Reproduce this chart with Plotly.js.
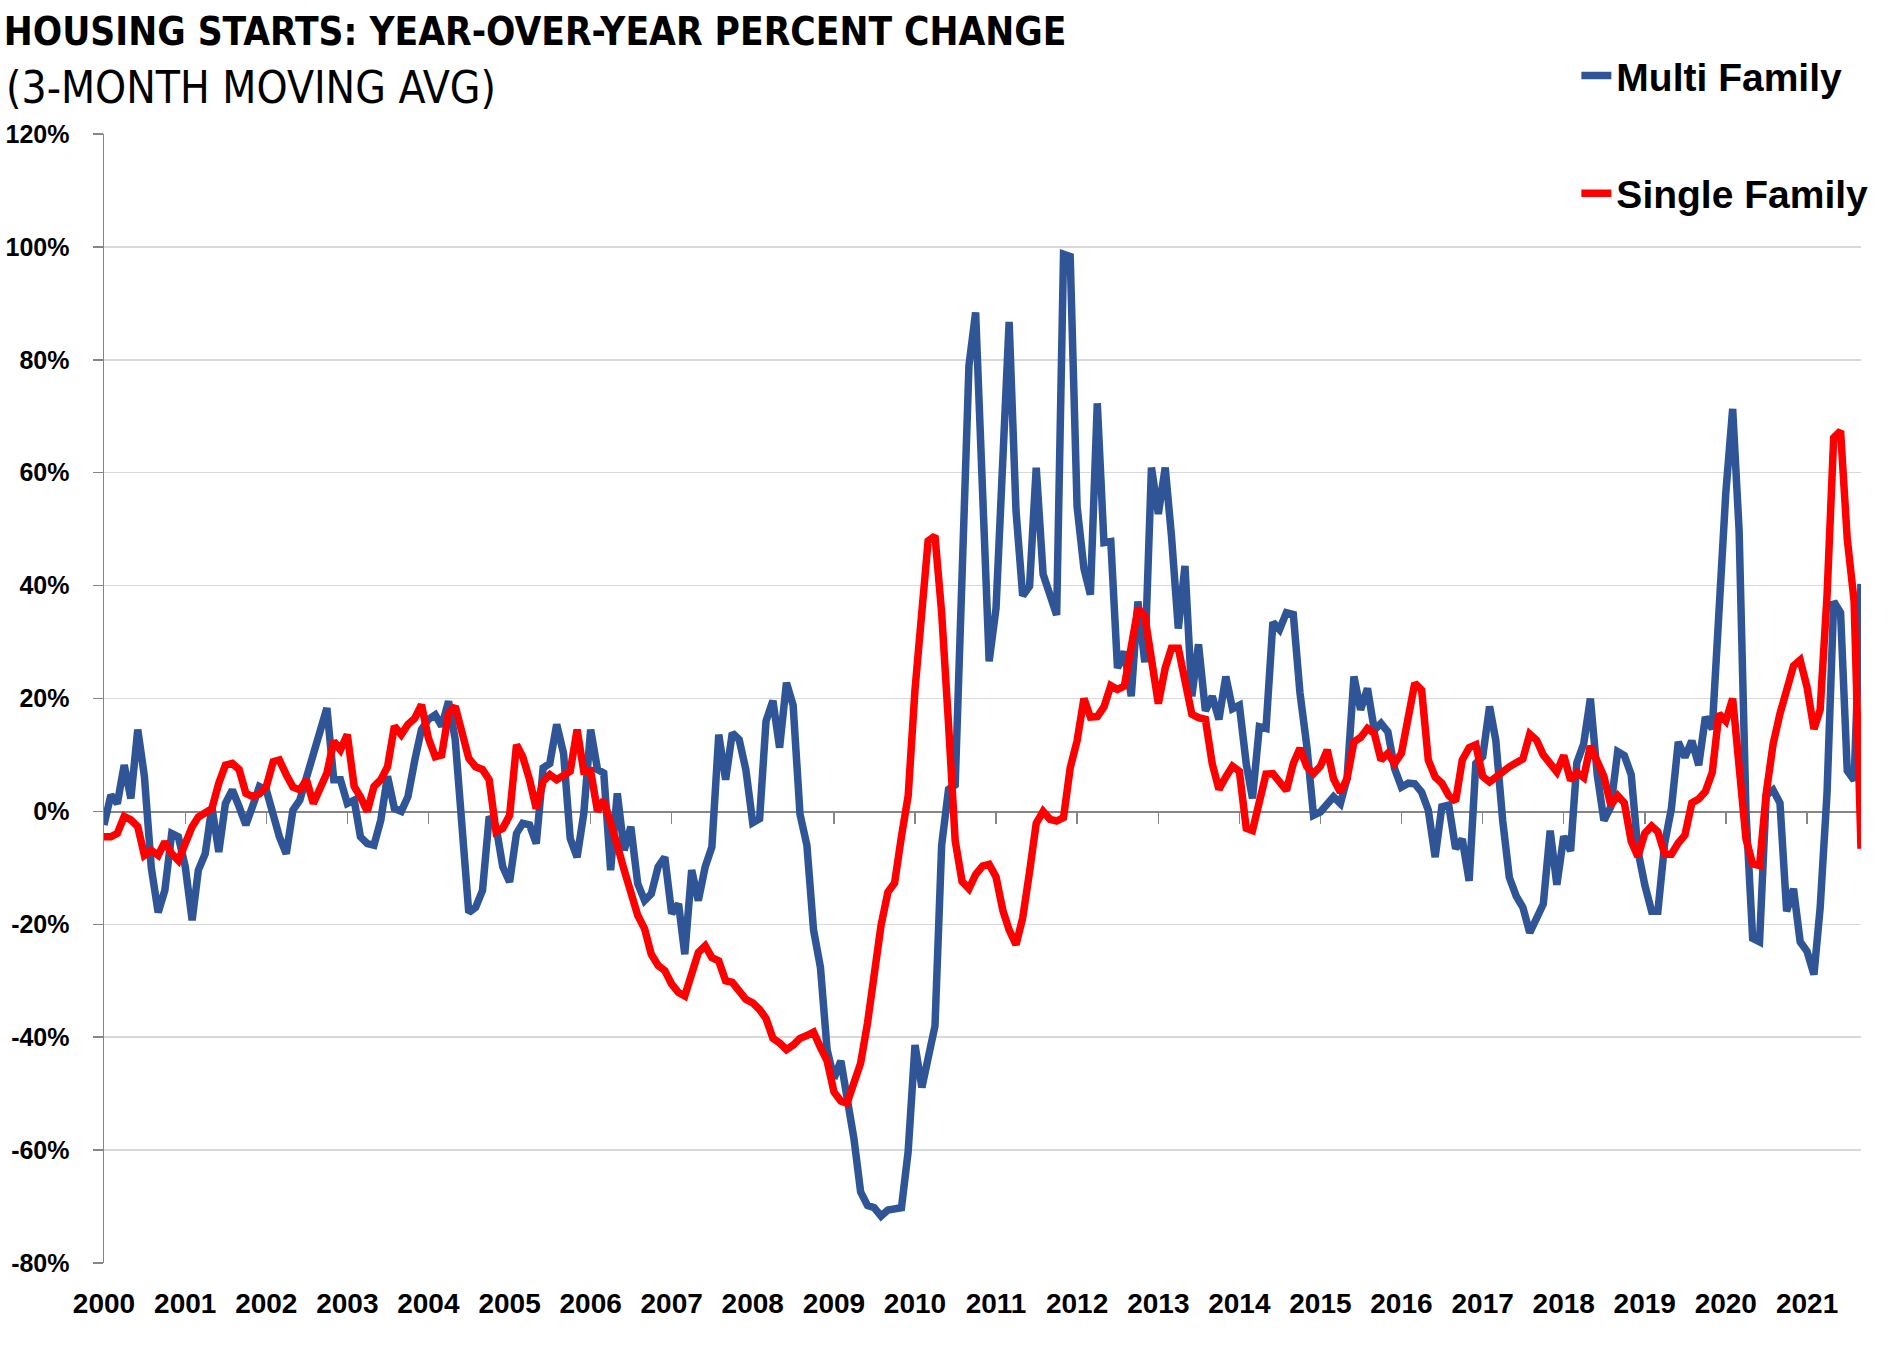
<!DOCTYPE html>
<html>
<head>
<meta charset="utf-8">
<script src="https://cdn.plot.ly/plotly-3.0.1.min.js"></script>
<style>
  html, body { margin: 0; padding: 0; background: #fff; }
  #myDiv { width: 1901px; height: 1362px; }
</style>
</head>
<body>
<div id="myDiv"></div>
<script>
// Monthly values, Jan 2000 - Sep 2021 (one row per year)
var multiFamily = [
  -2.4, 2.9, 1.4, 8.2, 2.3, 14.5, 6.2, -10, -17.9, -14, -3.9, -4.5,
  -9.8, -19.3, -10.4, -7.5, 0.8, -7.2, 1.4, 3.8, 0.8, -2.4, 1, 4.4,
  3.8, -0.4, -4.5, -7.5, 0.2, 2, 6.2, 10.3, 15, 18.3, 5.6, 5.6,
  1.4, 2, -4.5, -5.7, -6, -1.5, 6.2, 0.5, 0, 2.6, 9.1, 14.5,
  16.3, 17.1, 15.1, 19.5, 12.7, -1.5, -17.9, -17, -14, -0.9, -2.7, -9.8,
  -12.5, -3.9, -2.1, -2.4, -5.7, 7.7, 8.5, 15.4, 10.3, -4.8, -8.1, -0.4,
  14.5, 7.4, 6.8, -10.4, 3.2, -6.9, -2.7, -12.8, -15.8, -14.6, -9.8, -8.1,
  -18.1, -16.4, -25.3, -10.4, -15.8, -9.8, -6.3, 13.6, 5.6, 13.9, 12.7, 7.4,
  -2, -1.3, 16, 19.6, 11.3, 22.8, 18.8, -0.5, -6, -21, -27.6, -42.2,
  -47.3, -44.2, -50.9, -58, -67.4, -69.8, -70.2, -71.7, -70.6, -70.3, -70.2, -60.3,
  -41.4, -48.9, -43, -38, -6, 3.9, 4.7, 37.8, 79, 88.4, 58.4, 26.6,
  36, 62.7, 86.7, 53.2, 38.2, 39.9, 60.9, 42, 38.2, 34.8, 98.7, 98.3,
  54, 43, 38.4, 72.3, 47.6, 47.8, 25.4, 28.3, 20.4, 37.2, 26.4, 60.9,
  52.7, 60.9, 48.9, 32.4, 43.5, 20.4, 29.6, 17.8, 20.4, 16.3, 23.9, 18.2,
  18.8, 8.4, 2.3, 15, 14.7, 33.5, 32.2, 35.2, 34.9, 21, 11.5, -0.7,
  -0.1, 1.2, 2.6, 1.4, 5.8, 23.9, 18, 21.8, 14.4, 15.6, 14.1, 7.6,
  4.3, 5, 4.9, 3.4, 0.2, -8.1, 0.8, 1.1, -6.6, -4.9, -12.3, 8.5,
  9.7, 18.6, 12.6, -1.6, -11.7, -15, -17, -21.5, -18.5, -16.4, -3.4, -13,
  -4.4, -7, 8.6, 12, 20, 6.5, -1.6, 0.8, 10.6, 9.9, 6.5, -6.9,
  -13, -17.7, -17.7, -5.6, 0.5, 12.3, 9.6, 12.5, 8.2, 16.7, 14.6, 35.5,
  56.4, 71.3, 49.7, -0.2, -22.5, -23.1, 2.8, 3.8, 1.5, -17.7, -13.7, -23.1,
  -24.8, -28.9, -17.1, 3.2, 37.2, 35.2, 7.2, 5.5, 40.3
];

var singleFamily = [
  -4.5, -4.5, -3.9, -0.9, -1.5, -2.7, -7.8, -6.9, -7.8, -5.4, -7.5, -8.7,
  -5.7, -2.7, -1.0, -0.2, 0.5, 5, 8.2, 8.5, 7.4, 3.2, 2.6, 3.1,
  4.4, 8.8, 9.1, 6.5, 4.3, 3.8, 5.6, 1.4, 4.4, 6.8, 12.4, 10.9,
  13.6, 4.4, 2.6, 0, 4.4, 5.6, 7.9, 15.1, 13.6, 15.4, 16.5, 18.9,
  13, 9.7, 10, 17.4, 18.6, 13.6, 9.4, 7.9, 7.4, 5.6, -3.6, -3,
  -0.7, 11.8, 9.7, 5.6, 0.5, 5.3, 6.5, 5.6, 6.2, 7.1, 14.5, 7.1,
  7.2, 0, 2, -2.7, -6, -10.4, -14.3, -18.4, -20.8, -25.3, -27.3, -28.2,
  -30.6, -32.1, -32.7, -28.2, -25, -23.8, -25.9, -26.5, -30, -30.3, -31.8, -33.3,
  -33.9, -35.1, -36.7, -40.2, -41, -42.2, -41.4, -40.2, -39.7, -39.1, -41.8, -44.2,
  -49.7, -51.3, -51.7, -48.1, -44.6, -37.5, -28, -20.2, -14.3, -12.7, -4.4, 2.7,
  21.6, 34.3, 47.9, 48.8, 35.2, 15.5, -5.2, -12.4, -13.7, -11.2, -9.7, -9.4,
  -11.6, -17.6, -21, -23.6, -18.9, -10.7, -2.1, 0, -1.4, -1.7, -1.1, 7.7,
  12.5, 20, 16.7, 16.8, 18.5, 22.3, 21.6, 22.2, 28.6, 35.9, 34.6, 26.7,
  19.1, 25.4, 28.9, 28.9, 22.6, 17.2, 16.6, 16.3, 8.4, 3.9, 6.1, 8,
  7.1, -3, -3.4, 2, 6.6, 6.7, 5.2, 3.7, 8.5, 11.2, 7.9, 6.7,
  8, 10.9, 5.8, 3.4, 5.8, 12.3, 13.1, 14.7, 13.8, 9.1, 10.3, 8.5,
  10.3, 15.9, 22.7, 21.5, 9.1, 6.1, 5, 2.8, 1.8, 9.1, 11.3, 11.8,
  6.2, 5.2, 6.1, 7.2, 7.9, 8.6, 9.3, 13.7, 12.6, 10, 8.5, 7,
  9.9, 5.5, 6.9, 6, 11.6, 8.9, 6.2, 1.1, 2.8, 1.5, -5.3, -8,
  -3.9, -2.6, -3.6, -7.6, -7.6, -5.6, -4.2, 1.5, 2.2, 3.5, 6.9, 17.3,
  16, 20, 9.2, -4.9, -9.3, -9.6, 3.2, 11.9, 17.3, 22, 25.8, 26.8,
  22, 14.6, 18, 38.2, 66.2, 67.4, 48.3, 37.2, -6.6
];

var years = [2000, 2001, 2002, 2003, 2004, 2005, 2006, 2007, 2008, 2009, 2010,
  2011, 2012, 2013, 2014, 2015, 2016, 2017, 2018, 2019, 2020, 2021];
var yTickVals = [-80, -60, -40, -20, 0, 20, 40, 60, 80, 100, 120];
var yTickText = ['-80%', '-60%', '-40%', '-20%', '0%', '20%', '40%', '60%', '80%', '100%', '120%'];

// month dates starting Jan 2000
function monthDate(i) {
  var y = 2000 + Math.floor(i / 12);
  var m = (i % 12) + 1;
  return y + '-' + (m < 10 ? '0' + m : m) + '-01';
}
var dates = multiFamily.map(function (v, i) { return monthDate(i); });
var yearTicks = years.map(function (y) { return y + '-01-01'; });
var xRange = [dates[0], dates[dates.length - 1]];

var narrow = 'Liberation Sans Narrow, DejaVu Sans Condensed, Arial Narrow, sans-serif';
var sans = 'Liberation Sans, Arial, sans-serif';

var trace1 = {
  name: 'Multi Family',
  x: dates,
  y: multiFamily,
  type: 'scatter',
  mode: 'lines',
  legendgroup: 'a',
  line: {color: '#2f5597', width: 7.5},
  hoverinfo: 'skip'
};
var trace2 = {
  name: 'Single Family',
  x: dates,
  y: singleFamily,
  xaxis: 'x2',
  type: 'scatter',
  mode: 'lines',
  legendgroup: 'b',
  line: {color: '#ff0000', width: 7.5},
  hoverinfo: 'skip'
};

var data = [trace1, trace2];

var layout = {
  width: 1901,
  height: 1362,
  paper_bgcolor: '#ffffff',
  plot_bgcolor: '#ffffff',
  margin: {l: 104, r: 40, t: 134, b: 99, autoexpand: false},
  title: {
    text: '<b>HOUSING STARTS: YEAR-OVER-YEAR PERCENT CHANGE</b>',
    font: {family: narrow, size: 38.5, color: '#000'},
    xref: 'container', x: 0.002, xanchor: 'left',
    yref: 'container', y: 0.977, yanchor: 'middle'
  },
  annotations: [{
    text: '(3-MONTH MOVING AVG)',
    xref: 'paper', x: -0.057, xanchor: 'left',
    yref: 'paper', y: 1.041, yanchor: 'middle',
    showarrow: false,
    font: {family: narrow, size: 44, color: '#000'}
  }],
  showlegend: true,
  legend: {
    x: 0.838, y: 1.08, xanchor: 'left', yanchor: 'top',
    traceorder: 'grouped',
    tracegroupgap: 64,
    bgcolor: 'rgba(0,0,0,0)',
    font: {family: sans, size: 39, weight: 'bold', color: '#000'}
  },
  xaxis: {
    type: 'date',
    range: xRange,
    tickvals: yearTicks,
    ticktext: years.map(String),
    ticks: '',
    showline: false,
    showgrid: false,
    zeroline: false,
    ticklabelstandoff: 21,
    tickfont: {family: sans, size: 28, weight: 'bold', color: '#000'}
  },
  xaxis2: {
    type: 'date',
    overlaying: 'x',
    anchor: 'free',
    position: 0.4,
    range: xRange,
    tickvals: yearTicks,
    showticklabels: false,
    ticks: 'outside',
    ticklen: 11,
    tickwidth: 1.5,
    tickcolor: '#868686',
    showline: true,
    linecolor: '#868686',
    linewidth: 1.5,
    showgrid: false,
    zeroline: false,
    layer: 'below traces'
  },
  yaxis: {
    range: [-80, 120],
    tickvals: yTickVals,
    ticktext: yTickText,
    ticks: 'outside',
    ticklen: 10,
    tickwidth: 1.5,
    tickcolor: '#868686',
    showline: true,
    linecolor: '#868686',
    linewidth: 1.5,
    showgrid: true,
    gridcolor: '#d9d9d9',
    gridwidth: 1.5,
    zeroline: false,
    ticklabelstandoff: 18,
    tickfont: {family: sans, size: 25, weight: 'bold', color: '#000'}
  }
};

Plotly.newPlot('myDiv', data, layout, {staticPlot: true});
</script>
</body>
</html>
